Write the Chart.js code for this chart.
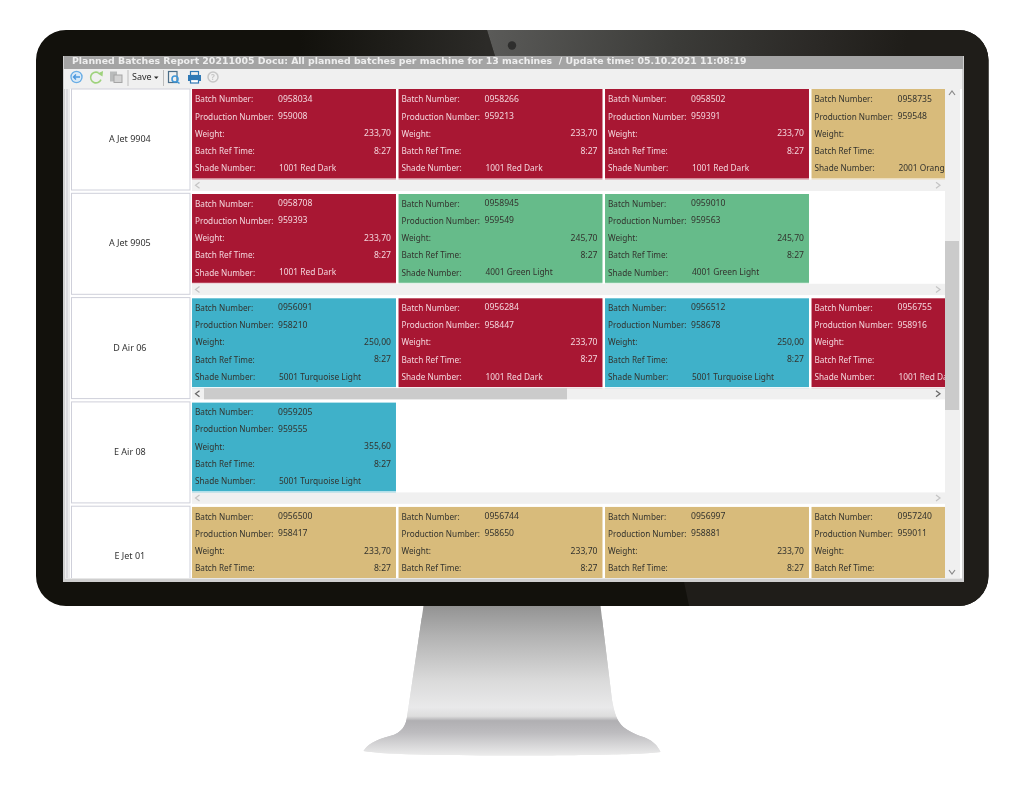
<!DOCTYPE html>
<html><head><meta charset="utf-8">
<style>html,body{margin:0;padding:0;background:#fff;overflow:hidden}canvas{display:block;filter:blur(0.35px)}#w{width:1024px;height:799px;position:relative}</style>
<script src="https://cdn.jsdelivr.net/npm/chart.js@4/dist/chart.umd.min.js"></script>
</head><body><div id="w"><canvas id="c" width="1024" height="799"></canvas></div>
<script>
const reportTitle = "Planned Batches Report 20211005 Docu: All planned batches per machine for 13 machines  / Update time: 05.10.2021 11:08:19";
const machines = ["A Jet 9904","A Jet 9905","D Air 06","E Air 08","E Jet 01"];
const fieldLabels = ["Batch Number:","Production Number:","Weight:","Batch Ref Time:","Shade Number:"];
const slotNames = ["Slot 1","Slot 2","Slot 3","Slot 4"];
const slotSpan = [
  [1,1,1,1,1],
  [1,1,1,null,1],
  [1,1,1,null,1],
  [1,null,1,null,1]
];
const batchNumbers = [
  ["0958034","0958708","0956091","0959205","0956500"],
  ["0958266","0958945","0956284",null,"0956744"],
  ["0958502","0959010","0956512",null,"0956997"],
  ["0958735",null,"0956755",null,"0957240"]
];
const productionNumbers = [
  ["959008","959393","958210","959555","958417"],
  ["959213","959549","958447",null,"958650"],
  ["959391","959563","958678",null,"958881"],
  ["959548",null,"958916",null,"959011"]
];
const weights = [
  ["233,70","233,70","250,00","355,60","233,70"],
  ["233,70","245,70","233,70",null,"233,70"],
  ["233,70","245,70","250,00",null,"233,70"],
  [null,null,null,null,null]
];
const refTimes = [
  ["8:27","8:27","8:27","8:27","8:27"],
  ["8:27","8:27","8:27",null,"8:27"],
  ["8:27","8:27","8:27",null,"8:27"],
  [null,null,null,null,null]
];
const shades = [
  ["1001 Red Dark","1001 Red Dark","5001 Turquoise Light","5001 Turquoise Light","2001 Orange"],
  ["1001 Red Dark","4001 Green Light","1001 Red Dark",null,"2001 Orange"],
  ["1001 Red Dark","4001 Green Light","5001 Turquoise Light",null,"2001 Orange"],
  ["2001 Orange",null,"1001 Red Dark",null,"2001 Orange"]
];
const shadeColors = {"1":"#a81733","2":"#d8bb7b","4":"#66bb8a","5":"#3fb1c9"};
const lightText = "#f3d5dc", darkText = "#33332e";
const FONT = '"Noto Sans"';

function chevron(c,x,y,dir,col){
  c.save();c.strokeStyle=col;c.lineWidth=1.2;c.beginPath();
  if(dir==='l'){c.moveTo(x+2,y-3);c.lineTo(x-2,y);c.lineTo(x+2,y+3);}
  if(dir==='r'){c.moveTo(x-2,y-3);c.lineTo(x+2,y);c.lineTo(x-2,y+3);}
  if(dir==='u'){c.moveTo(x-3,y+2);c.lineTo(x,y-2);c.lineTo(x+3,y+2);}
  if(dir==='d'){c.moveTo(x-3,y-2);c.lineTo(x,y+2);c.lineTo(x+3,y-2);}
  c.stroke();c.restore();
}
function drawStand(c){
  const g=c.createLinearGradient(0,606,0,755);
  [[0,"#939393"],[.2,"#b2b2b2"],[.5,"#dadada"],[.68,"#e9e9ea"],[.74,"#dddddd"],[.77,"#b0afb2"],[.85,"#bdbcbf"],[1,"#ebebeb"]].forEach(s=>g.addColorStop(s[0],s[1]));
  c.fillStyle=g;c.beginPath();
  c.moveTo(423.5,606);c.lineTo(600.5,606);
  c.lineTo(612,700);
  c.bezierCurveTo(616,722,620,728,640,736);
  c.bezierCurveTo(652,739,658,746,660.5,752);
  c.bezierCurveTo(640,755,560,755.5,512,755.5);
  c.bezierCurveTo(460,755.5,385,755,363.5,751);
  c.bezierCurveTo(368,744,375,740,390,736);
  c.bezierCurveTo(402,733,406,725,407,717);
  c.closePath();c.fill();
}
function drawBezel(c){
  c.save();
  c.beginPath();c.roundRect(36,30,952.5,576,[30,30,30,30]);
  c.rect(63,56,901,526);
  c.clip('evenodd');
  c.fillStyle="#12110c";c.fillRect(30,25,970,590);
  const g0=c.createLinearGradient(300,0,487,0);g0.addColorStop(0,"#12110c");g0.addColorStop(1,"#2c2b28");
  c.fillStyle=g0;c.beginPath();c.moveTo(300,30);c.lineTo(487,30);c.lineTo(495,56);c.lineTo(300,56);c.closePath();c.fill();
  c.fillStyle="#1f1d19";c.beginPath();c.moveTo(964,120);c.lineTo(1000,120);c.lineTo(1000,620);c.lineTo(692,620);c.lineTo(684,582);c.lineTo(964,582);c.closePath();c.fill();
  const g=c.createLinearGradient(490,30,900,90);
  g.addColorStop(0,"#5a5a58");g.addColorStop(.45,"#3b3b38");g.addColorStop(.8,"#2a2825");g.addColorStop(1,"#1f1d19");
  c.fillStyle=g;c.beginPath();c.moveTo(487,30);c.lineTo(1000,30);c.lineTo(1000,300);c.lineTo(964,300);c.lineTo(964,56);c.lineTo(495,56);c.closePath();c.fill();
  c.restore();
  c.fillStyle="#2e2e2d";c.beginPath();c.arc(512,45.5,4.2,0,7);c.fill();
}
function drawToolbar(c){
  c.fillStyle="#f0f0f0";c.fillRect(64,69,898,20);
  c.strokeStyle="#6aaee6";c.lineWidth=1.4;c.beginPath();c.arc(76.5,77,5.5,0,7);c.stroke();
  c.fillStyle="#d7e9f8";c.beginPath();c.arc(76.5,77,4.6,0,7);c.fill();
  c.strokeStyle="#4a97dd";c.beginPath();c.moveTo(80,77);c.lineTo(73.5,77);c.moveTo(76,74.5);c.lineTo(73.5,77);c.lineTo(76,79.5);c.stroke();
  c.strokeStyle="#9ed27c";c.lineWidth=1.6;c.beginPath();c.arc(96,77.5,5.4,0.4,5.2);c.stroke();
  c.fillStyle="#9ed27c";c.beginPath();c.moveTo(97.5,73.5);c.lineTo(103,71);c.lineTo(102.5,76.5);c.closePath();c.fill();
  c.fillStyle="#b9bbbb";c.fillRect(110,71.5,7,10);c.fillStyle="#d3d3d3";c.fillRect(114,75,8,7.5);
  c.strokeStyle="#a5a5a5";c.lineWidth=1;c.strokeRect(114,75,8,7.5);
  c.fillStyle="#bcbcbc";c.fillRect(127.5,70,1,16);c.fillRect(163,70,1,16);
  c.fillStyle="#2a2a2a";c.font='9px '+FONT;c.textBaseline="middle";c.textAlign="left";c.fillText("Save",132,77.5);
  c.beginPath();c.moveTo(154,76.5);c.lineTo(158.5,76.5);c.lineTo(156.2,79);c.closePath();c.fill();
  c.strokeStyle="#4a6d88";c.lineWidth=1.2;c.strokeRect(168.5,71.5,8.5,11);
  c.strokeStyle="#3f97d8";c.lineWidth=1.6;c.beginPath();c.arc(175,79,3,0,7);c.stroke();c.beginPath();c.moveTo(177,81.5);c.lineTo(179.5,83.5);c.stroke();
  c.fillStyle="#2f79b5";c.fillRect(188,75,13,6);c.strokeStyle="#2f79b5";c.lineWidth=1.2;c.strokeRect(190.5,71.5,8,4);
  c.fillStyle="#fff";c.fillRect(191,80,7,3);c.strokeRect(190.5,79.5,8,3.5);
  c.strokeStyle="#c6c6c6";c.lineWidth=1.5;c.beginPath();c.arc(213,77,5,0,7);c.stroke();
  c.fillStyle="#c6c6c6";c.font='bold 8px '+FONT;c.textAlign="center";c.fillText("?",213,77.5);
}
const monitorBack = {id:'monitorBack',beforeDraw(chart){
  const c=chart.ctx;const y=chart.scales.y;c.save();
  c.fillStyle="#fff";c.fillRect(0,0,1024,799);
  drawStand(c);
  c.fillStyle="#f2f2f2";c.fillRect(63,56,901,526);
  c.fillStyle="#cfcfcf";c.fillRect(63,56,2,526);c.fillRect(962,56,2,526);
  c.fillStyle="#ffffff";c.fillRect(65,89,897,490);
  c.fillStyle="#ececec";c.fillRect(65,89,5,490);c.fillStyle="#c9c9d0";c.fillRect(66.5,89,1,490);
  c.fillStyle="#a4a4a4";c.fillRect(64,56,899,13);
  c.fillStyle="#eeeeee";c.font='bold 9.37px "DejaVu Sans"';c.textAlign="left";c.textBaseline="middle";
  c.fillText(reportTitle,72,61.5);
  drawToolbar(c);
  machines.forEach((m,i)=>{const py=y.getPixelForValue(i);
    c.fillStyle="#fff";c.fillRect(71.5,py-50.5,118.5,101);
    c.strokeStyle="#cfd0da";c.lineWidth=1;c.strokeRect(71.5,py-50.5,118.5,101);
  });
  c.restore();
}};
const cardText = {id:'cardText',afterDatasetsDraw(chart){
  const c=chart.ctx,a=chart.chartArea;c.save();
  c.beginPath();c.rect(a.left,89,a.right-a.left,490);c.clip();
  slotSpan.forEach((arr,d)=>{
    const meta=chart.getDatasetMeta(d);
    arr.forEach((v,r)=>{
      if(v==null)return;
      const el=meta.data[r];const left=el.base+1.25;const right=el.x-1.25;const top=el.y-el.height/2;
      const col=shades[d][r][0]==="1"?lightText:darkText;
      c.fillStyle=col;c.textBaseline="middle";c.textAlign="left";
      c.font='8.2px '+FONT;
      fieldLabels.forEach((t,k)=>c.fillText(t,left+3,top+11+k*17.25));
      c.font='8.6px '+FONT;
      c.fillText(batchNumbers[d][r],left+86,top+10.3);
      c.fillText(productionNumbers[d][r],left+86,top+27.5);
      c.font='8.35px '+FONT;
      c.fillText(shades[d][r],left+87,top+79.6);
      c.font='8.6px '+FONT;
      c.textAlign="right";
      if(weights[d][r])c.fillText(weights[d][r],right-5,top+45);
      if(refTimes[d][r])c.fillText(refTimes[d][r],right-5,top+62.2);
    });
  });
  c.restore();
  c.save();
  const y=chart.scales.y;
  machines.forEach((m,i)=>{const py=y.getPixelForValue(i);const t=py-50.5+89.5;
    c.fillStyle="#fff";c.fillRect(191,t,754,1);
    c.fillStyle="#f0f0f0";c.fillRect(192,t+1,753,11.5);
    if(i===2){c.fillStyle="#cbcbcb";c.fillRect(204,t+1,363,11.5);}
    const col=i===2?"#666":"#c4c4c4";
    chevron(c,197.5,t+6.7,'l',col);chevron(c,938,t+6.7,'r',col);
    c.fillStyle="#fff";c.fillRect(191,t+12.5,754,3);
  });
  c.fillStyle="#f0f0f0";c.fillRect(945,89,15,490);
  c.fillStyle="#cbcbcb";c.fillRect(945,241,14,169);
  chevron(c,952,93,'u',"#8a8a8a");chevron(c,952,572,'d',"#8a8a8a");
  c.fillStyle="#fff";c.fillRect(960,89,2,490);
  c.fillStyle="#ffffff";c.fillRect(65,578,897,1);
  c.fillStyle="#cfcfcf";c.fillRect(63,578.5,901,3.5);
  c.fillStyle="#fff";c.fillRect(0,606,423,12);c.fillRect(601,606,423,12);
  drawStand(c);
  drawBezel(c);
  c.restore();
}};
new Chart(document.getElementById('c'),{
  type:'bar',
  data:{labels:machines,datasets:slotSpan.map((vals,d)=>({
    label:slotNames[d],data:vals,
    backgroundColor:shades[d].map(s=>s?shadeColors[s[0]]:"#fff"),
    borderColor:"#ffffff",borderWidth:{left:1.6,right:1.6,top:0,bottom:0},borderSkipped:false,
    barThickness:101,categoryPercentage:1,barPercentage:1
  }))},
  options:{
    indexAxis:'y',responsive:false,animation:false,devicePixelRatio:1,
    layout:{padding:{left:71,right:79,top:87.35,bottom:190.15}},
    plugins:{legend:{display:false},title:{display:false},tooltip:{enabled:false}},
    scales:{
      x:{display:false,stacked:true,min:0,max:3.6525},
      y:{stacked:true,grid:{display:false,drawTicks:false},border:{display:false},
         afterFit(s){s.width=119.75;},
         ticks:{color:"#333",font:{family:'Noto Sans',size:9},crossAlign:'center',padding:40}}
    }
  },
  plugins:[monitorBack,cardText]
});
</script></body></html>
